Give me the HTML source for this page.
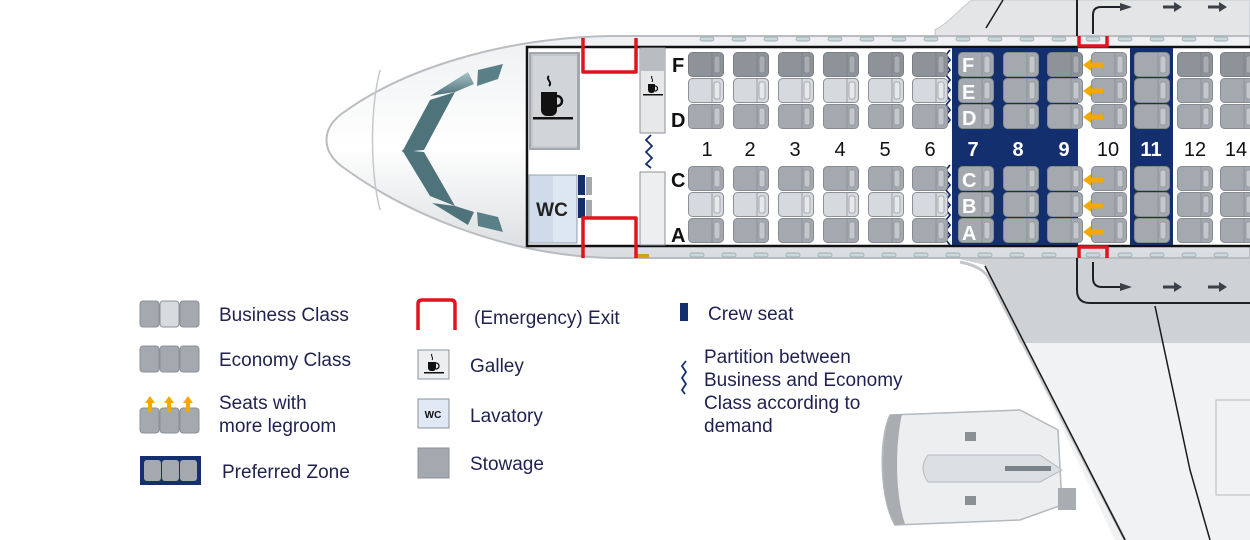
<!DOCTYPE html>
<html><head><meta charset="utf-8"><style>
html,body{margin:0;padding:0;background:#fff;}
svg{display:block;}
text{font-family:"Liberation Sans",sans-serif;}
</style></head><body>
<svg width="1250" height="540" viewBox="0 0 1250 540" xmlns="http://www.w3.org/2000/svg">
<defs>
<linearGradient id="fus" x1="0" y1="0" x2="0" y2="1">
<stop offset="0" stop-color="#eef0f2"/><stop offset="0.5" stop-color="#ffffff"/><stop offset="1" stop-color="#d9dcdf"/>
</linearGradient>
<linearGradient id="win" x1="0" y1="0" x2="0" y2="1">
<stop offset="0" stop-color="#a9c3c8"/><stop offset="1" stop-color="#4a6f78"/>
</linearGradient>
<g id="seat">
<rect x="0.5" y="0.5" width="35" height="24" rx="4" fill="#a4a9af" stroke="#878c92"/>
<rect x="26" y="4" width="6" height="17" rx="2" fill="#c4c8cc" stroke="#8f949a" stroke-width="0.8"/>
<line x1="24" y1="1" x2="24" y2="24" stroke="#878c92" stroke-width="0.8"/>
</g>
<g id="seatL">
<rect x="0.5" y="0.5" width="35" height="24" rx="4" fill="#d6d9dd" stroke="#8c9197"/>
<rect x="26" y="4" width="6" height="17" rx="2" fill="#e6e8ea" stroke="#989da3" stroke-width="0.8"/>
<line x1="24" y1="1" x2="24" y2="24" stroke="#8c9197" stroke-width="0.8"/>
</g>
<g id="seatD">
<rect x="0.5" y="0.5" width="35" height="24" rx="4" fill="#8e9399" stroke="#7a7f85"/>
<rect x="26" y="4" width="6" height="17" rx="2" fill="#a9adb2" stroke="#7f848a" stroke-width="0.8"/>
<line x1="24" y1="1" x2="24" y2="24" stroke="#7a7f85" stroke-width="0.8"/>
</g>
<g id="oarr"><polygon points="0,0 8,-6 8,-2.5 20,-2.5 20,2.5 8,2.5 8,6" fill="#f5a800"/></g>
<g id="darr"><rect x="0" y="-1.5" width="12" height="3" fill="#3b4148"/><polygon points="11,-5 19,0 11,5" fill="#3b4148"/></g>
</defs>

<!-- upper wing -->
<path d="M935,30 C950,22 958,10 972,0 L1250,0 L1250,36 L935,36 Z" fill="#e3e5e7" stroke="#c3c7cb"/>
<line x1="986" y1="28" x2="1003" y2="0" stroke="#1a1a1a" stroke-width="1.5"/>
<!-- lower wing -->
<path d="M955,258 L985,265 L1115,540 L1250,540 L1250,258 Z" fill="#f1f2f4"/>
<path d="M955,258 L985,265 L1020,343 L1250,343 L1250,258 Z" fill="#cfd2d5"/>
<path d="M960,262 C975,265 985,270 990,280 L1125,540" fill="none" stroke="#c3c7cb" stroke-width="3"/>
<line x1="985" y1="266" x2="1125" y2="540" stroke="#1a1a1a" stroke-width="1.5"/>
<path d="M1155,306 L1190,470 L1210,540" fill="none" stroke="#1a1a1a" stroke-width="1.5"/>
<rect x="1216" y="400" width="40" height="95" fill="none" stroke="#b8bcc0"/>

<!-- fuselage -->
<path d="M1250,36 L610,36 C500,38 400,70 340,115 C322,130 322,150 340,165 C400,210 500,255 610,258 L1250,258 Z" fill="url(#fus)" stroke="#b9bdc2" stroke-width="2"/>
<path d="M380,70 C370,110 370,170 380,210" fill="none" stroke="#c4c8cc" stroke-width="1.5"/>
<!-- nose windows -->
<polygon points="402,152 430,100 455,92 424,150" fill="#4e737b"/>
<polygon points="402,150 430,196 455,206 424,152" fill="#4e737b"/>
<polygon points="430,96 468,72 474,84 455,92" fill="url(#win)"/>
<polygon points="478,70 503,64 498,79 477,86" fill="#5a7f87"/>
<polygon points="432,203 468,225 474,212 455,206" fill="#4e737b"/>
<polygon points="478,226 503,232 498,217 477,212" fill="#5a7f87"/>
<!-- window dashes -->
<g fill="#c9d8dc" stroke="#8aa1a6" stroke-width="0.7">
<rect x="700" y="37" width="14" height="4" rx="2"/><rect x="732" y="37" width="14" height="4" rx="2"/><rect x="764" y="37" width="14" height="4" rx="2"/><rect x="796" y="37" width="14" height="4" rx="2"/><rect x="828" y="37" width="14" height="4" rx="2"/><rect x="860" y="37" width="14" height="4" rx="2"/><rect x="892" y="37" width="14" height="4" rx="2"/><rect x="924" y="37" width="14" height="4" rx="2"/><rect x="956" y="37" width="14" height="4" rx="2"/><rect x="988" y="37" width="14" height="4" rx="2"/><rect x="1020" y="37" width="14" height="4" rx="2"/><rect x="1052" y="37" width="14" height="4" rx="2"/><rect x="1086" y="37" width="14" height="4" rx="2"/><rect x="1118" y="37" width="14" height="4" rx="2"/><rect x="1150" y="37" width="14" height="4" rx="2"/><rect x="1182" y="37" width="14" height="4" rx="2"/><rect x="1214" y="37" width="14" height="4" rx="2"/>
<rect x="690" y="253" width="14" height="4" rx="2"/><rect x="722" y="253" width="14" height="4" rx="2"/><rect x="754" y="253" width="14" height="4" rx="2"/><rect x="786" y="253" width="14" height="4" rx="2"/><rect x="818" y="253" width="14" height="4" rx="2"/><rect x="850" y="253" width="14" height="4" rx="2"/><rect x="882" y="253" width="14" height="4" rx="2"/><rect x="914" y="253" width="14" height="4" rx="2"/><rect x="946" y="253" width="14" height="4" rx="2"/><rect x="978" y="253" width="14" height="4" rx="2"/><rect x="1010" y="253" width="14" height="4" rx="2"/><rect x="1042" y="253" width="14" height="4" rx="2"/><rect x="1086" y="253" width="14" height="4" rx="2"/><rect x="1118" y="253" width="14" height="4" rx="2"/><rect x="1150" y="253" width="14" height="4" rx="2"/><rect x="1182" y="253" width="14" height="4" rx="2"/><rect x="1214" y="253" width="14" height="4" rx="2"/>
</g>
<rect x="636" y="254" width="13" height="4" fill="#d4a017"/>

<!-- cabin -->
<rect x="527" y="47" width="730" height="199" fill="#fff" stroke="#111" stroke-width="2.5"/>
<!-- blue zones -->
<rect x="952" y="48" width="126" height="197" fill="#132f6e"/>
<rect x="1130" y="48" width="43" height="197" fill="#132f6e"/>
<!-- partition zigzag -->
<path d="M950,50 l-4,5 4,5 -4,5 4,5 -4,5 4,5 -4,5 4,5 -4,5 4,5 -4,5 4,5 -4,5 4,5 -4,5" fill="none" stroke="#132f6e" stroke-width="1.8"/>
<path d="M950,165 l-4,5 4,5 -4,5 4,5 -4,5 4,5 -4,5 4,5 -4,5 4,5 -4,5 4,5 -4,5 4,5 -4,5 4,5" fill="none" stroke="#132f6e" stroke-width="1.8"/>

<!-- galley -->
<rect x="529" y="52" width="51" height="98" fill="#a3a8ae"/>
<rect x="531" y="54" width="46" height="94" fill="#c3c7cb"/>
<rect x="533" y="56" width="44" height="90" fill="#d2d5d8"/>
<g fill="#111"><path d="M541,92 h16 v18 a6,6 0 0 1 -6,6 h-4 a6,6 0 0 1 -6,-6 z"/><path d="M557,96 a5,5 0 0 1 0,10" fill="none" stroke="#111" stroke-width="2.5"/><rect x="533" y="117" width="40" height="2.5"/><path d="M549,76 c-4,3 4,6 0,10" fill="none" stroke="#111" stroke-width="2"/></g>
<!-- WC -->
<rect x="529" y="175" width="48" height="68" fill="#cfdbea" stroke="#9aa4ae"/>
<rect x="553" y="176" width="23" height="66" fill="#dde7f2"/>
<text x="552" y="216" font-size="19" font-weight="bold" text-anchor="middle" fill="#222">WC</text>
<rect x="578" y="175" width="7" height="20" fill="#132f6e"/><rect x="578" y="198" width="7" height="20" fill="#132f6e"/>
<rect x="586" y="177" width="6" height="18" fill="#a3a8ae"/><rect x="586" y="200" width="6" height="18" fill="#a3a8ae"/>
<!-- small galley -->
<rect x="640" y="48" width="25" height="85" fill="#e6e8ea" stroke="#8c9197"/>
<rect x="641" y="49" width="23" height="22" fill="#b9bdc1"/>
<g fill="#111"><path d="M648,84 h7 v6 a3,3 0 0 1 -3,3 h-1 a3,3 0 0 1 -3,-3 z"/><path d="M655,86 a2.5,2.5 0 0 1 0,5" fill="none" stroke="#111" stroke-width="1.3"/><rect x="643" y="94" width="20" height="1.5"/><path d="M652,76 c-2,2 2,3 0,6" fill="none" stroke="#111" stroke-width="1"/></g>
<rect x="640" y="172" width="25" height="73" fill="#eceef0" stroke="#8c9197"/>
<path d="M651,135 l-5,5 6,6 -6,6 6,6 -6,6 5,4" fill="none" stroke="#132f6e" stroke-width="1.8"/>
<!-- exits -->
<g fill="none" stroke="#e0141e" stroke-width="3.5" stroke-linejoin="round">
<path d="M583,38 V72 H636 V38"/>
<path d="M583,258 V218 H636 V258"/>
<path d="M1079,36 V46 H1107 V36"/>
<path d="M1079,258 V247 H1107 V258"/>
</g>

<!-- seats -->
<g>
<use href="#seatD" x="688" y="52"/><use href="#seatL" x="688" y="78"/><use href="#seat" x="688" y="104"/><use href="#seat" x="688" y="166"/><use href="#seatL" x="688" y="192"/><use href="#seat" x="688" y="218"/>
<use href="#seatD" x="733" y="52"/><use href="#seatL" x="733" y="78"/><use href="#seat" x="733" y="104"/><use href="#seat" x="733" y="166"/><use href="#seatL" x="733" y="192"/><use href="#seat" x="733" y="218"/>
<use href="#seatD" x="778" y="52"/><use href="#seatL" x="778" y="78"/><use href="#seat" x="778" y="104"/><use href="#seat" x="778" y="166"/><use href="#seatL" x="778" y="192"/><use href="#seat" x="778" y="218"/>
<use href="#seatD" x="823" y="52"/><use href="#seatL" x="823" y="78"/><use href="#seat" x="823" y="104"/><use href="#seat" x="823" y="166"/><use href="#seatL" x="823" y="192"/><use href="#seat" x="823" y="218"/>
<use href="#seatD" x="868" y="52"/><use href="#seatL" x="868" y="78"/><use href="#seat" x="868" y="104"/><use href="#seat" x="868" y="166"/><use href="#seatL" x="868" y="192"/><use href="#seat" x="868" y="218"/>
<use href="#seatD" x="912" y="52"/><use href="#seatL" x="912" y="78"/><use href="#seat" x="912" y="104"/><use href="#seat" x="912" y="166"/><use href="#seatL" x="912" y="192"/><use href="#seat" x="912" y="218"/>
<use href="#seat" x="958" y="52"/><use href="#seat" x="958" y="78"/><use href="#seat" x="958" y="104"/><use href="#seat" x="958" y="166"/><use href="#seat" x="958" y="192"/><use href="#seat" x="958" y="218"/>
<use href="#seat" x="1003" y="52"/><use href="#seat" x="1003" y="78"/><use href="#seat" x="1003" y="104"/><use href="#seat" x="1003" y="166"/><use href="#seat" x="1003" y="192"/><use href="#seat" x="1003" y="218"/>
<use href="#seatD" x="1047" y="52"/><use href="#seat" x="1047" y="78"/><use href="#seat" x="1047" y="104"/><use href="#seat" x="1047" y="166"/><use href="#seat" x="1047" y="192"/><use href="#seat" x="1047" y="218"/>
<use href="#seat" x="1091" y="52"/><use href="#seat" x="1091" y="78"/><use href="#seat" x="1091" y="104"/><use href="#seat" x="1091" y="166"/><use href="#seat" x="1091" y="192"/><use href="#seat" x="1091" y="218"/>
<use href="#seat" x="1134" y="52"/><use href="#seat" x="1134" y="78"/><use href="#seat" x="1134" y="104"/><use href="#seat" x="1134" y="166"/><use href="#seat" x="1134" y="192"/><use href="#seat" x="1134" y="218"/>
<use href="#seatD" x="1177" y="52"/><use href="#seat" x="1177" y="78"/><use href="#seat" x="1177" y="104"/><use href="#seat" x="1177" y="166"/><use href="#seat" x="1177" y="192"/><use href="#seat" x="1177" y="218"/>
<use href="#seatD" x="1220" y="52"/><use href="#seat" x="1220" y="78"/><use href="#seat" x="1220" y="104"/><use href="#seat" x="1220" y="166"/><use href="#seat" x="1220" y="192"/><use href="#seat" x="1220" y="218"/>
</g>
<!-- orange arrows -->
<use href="#oarr" x="1083" y="65"/><use href="#oarr" x="1083" y="91"/><use href="#oarr" x="1083" y="117"/>
<use href="#oarr" x="1083" y="180"/><use href="#oarr" x="1083" y="206"/><use href="#oarr" x="1083" y="232"/>

<!-- row letters -->
<g font-size="20" font-weight="bold" fill="#111">
<text x="672" y="72">F</text><text x="671" y="127">D</text><text x="671" y="187">C</text><text x="671" y="242">A</text>
</g>
<g font-size="20" font-weight="bold" fill="#fff">
<text x="962" y="72">F</text><text x="962" y="99">E</text><text x="962" y="125">D</text>
<text x="962" y="187">C</text><text x="962" y="213">B</text><text x="962" y="240">A</text>
</g>
<g font-size="20" text-anchor="middle" fill="#111">
<text x="707" y="156">1</text><text x="750" y="156">2</text><text x="795" y="156">3</text><text x="840" y="156">4</text><text x="885" y="156">5</text><text x="930" y="156">6</text>
<text x="1108" y="156">10</text><text x="1195" y="156">12</text><text x="1236" y="156">14</text>
</g>
<g font-size="20" font-weight="bold" text-anchor="middle" fill="#fff">
<text x="973" y="156">7</text><text x="1018" y="156">8</text><text x="1064" y="156">9</text><text x="1151" y="156">11</text>
</g>

<!-- exit path arrows -->
<g fill="none" stroke="#1e2226" stroke-width="2">
<line x1="1077" y1="0" x2="1077" y2="36"/>
<path d="M1093,34 V15 q0,-8 8,-8 H1122"/>
<path d="M1077,258 V290 q0,13 13,13 H1250"/>
<path d="M1093,262 V278 q0,9 9,9 H1122"/>
</g>
<g fill="#3b4148"><polygon points="1120,3 1132,7 1120,11"/><polygon points="1120,283 1132,287 1120,291"/></g>
<use href="#darr" x="1163" y="7"/><use href="#darr" x="1208" y="7"/>
<use href="#darr" x="1163" y="287"/><use href="#darr" x="1208" y="287"/>

<!-- engine -->
<path d="M890,415 L1020,410 L1058,430 L1062,505 L1020,520 L895,525 C880,500 878,440 890,415 Z" fill="#eceef0" stroke="#b5b9bd" stroke-width="1.5"/>
<path d="M890,415 C880,440 880,500 895,525 L905,524 C895,495 895,445 902,414 Z" fill="#a9adb2"/>
<path d="M928,455 L1040,455 L1062,470 L1040,482 L928,482 Q918,468 928,455 Z" fill="#dcdfe2" stroke="#b5b9bd"/>
<rect x="1005" y="466" width="46" height="5" fill="#7c8289"/>
<rect x="965" y="432" width="11" height="9" fill="#8a9096"/>
<rect x="965" y="496" width="11" height="9" fill="#8a9096"/>
<rect x="1058" y="488" width="18" height="22" fill="#a9adb2"/>

<!-- legend -->
<g font-size="19" fill="#1f2250">
<text x="219" y="321">Business Class</text>
<text x="219" y="366">Economy Class</text>
<text x="219" y="409">Seats with</text>
<text x="219" y="432">more legroom</text>
<text x="222" y="478">Preferred Zone</text>
<text x="474" y="324">(Emergency) Exit</text>
<text x="470" y="372">Galley</text>
<text x="470" y="422">Lavatory</text>
<text x="470" y="470">Stowage</text>
<text x="708" y="320">Crew seat</text>
<text x="704" y="363">Partition between</text>
<text x="704" y="386">Business and Economy</text>
<text x="704" y="409">Class according to</text>
<text x="704" y="432">demand</text>
</g>
<!-- legend icons -->
<g stroke="#8c9197">
<rect x="140" y="301" width="19" height="26" rx="3" fill="#a4a9af"/><rect x="160" y="301" width="19" height="26" rx="3" fill="#d8dbde"/><rect x="180" y="301" width="19" height="26" rx="3" fill="#a4a9af"/>
<rect x="140" y="346" width="19" height="26" rx="3" fill="#a4a9af"/><rect x="160" y="346" width="19" height="26" rx="3" fill="#a4a9af"/><rect x="180" y="346" width="19" height="26" rx="3" fill="#a4a9af"/>
<rect x="140" y="408" width="19" height="25" rx="3" fill="#a4a9af"/><rect x="160" y="408" width="19" height="25" rx="3" fill="#a4a9af"/><rect x="180" y="408" width="19" height="25" rx="3" fill="#a4a9af"/>
</g>
<g fill="#f5a800">
<polygon points="150,396 155,403 152,403 152,412 148,412 148,403 145,403"/>
<polygon points="169,396 174,403 171,403 171,412 167,412 167,403 164,403"/>
<polygon points="188,396 193,403 190,403 190,412 186,412 186,403 183,403"/>
</g>
<rect x="140" y="456" width="61" height="29" fill="#132f6e"/>
<rect x="144" y="460" width="17" height="21" rx="3" fill="#a4a9af"/><rect x="162" y="460" width="17" height="21" rx="3" fill="#a4a9af"/><rect x="180" y="460" width="17" height="21" rx="3" fill="#a4a9af"/>
<path d="M418,330 V304 q0,-4 4,-4 H451 q4,0 4,4 V330" fill="none" stroke="#e0141e" stroke-width="3.5"/>
<rect x="418" y="350" width="31" height="29" fill="#eceef0" stroke="#8c9197"/>
<g fill="#111"><path d="M428,362 h8 v6 a3,3 0 0 1 -3,3 h-2 a3,3 0 0 1 -3,-3 z"/><path d="M436,363 a3,3 0 0 1 0,6" fill="none" stroke="#111" stroke-width="1.3"/><rect x="424" y="372" width="20" height="1.5"/><path d="M432,354 c-2,2 2,3 0,6" fill="none" stroke="#111" stroke-width="1"/></g>
<rect x="418" y="399" width="31" height="29" fill="#dfe8f4" stroke="#8c9197"/>
<text x="433" y="418" font-size="10" font-weight="bold" text-anchor="middle" fill="#111">WC</text>
<rect x="418" y="448" width="31" height="30" fill="#a4a9af" stroke="#8c9197"/>
<rect x="680" y="303" width="8" height="18" fill="#132f6e"/>
<path d="M686,361 l-4,5 4,6 -4,6 4,6 -4,6 3,4" fill="none" stroke="#132f6e" stroke-width="1.8"/>
</svg>
</body></html>
